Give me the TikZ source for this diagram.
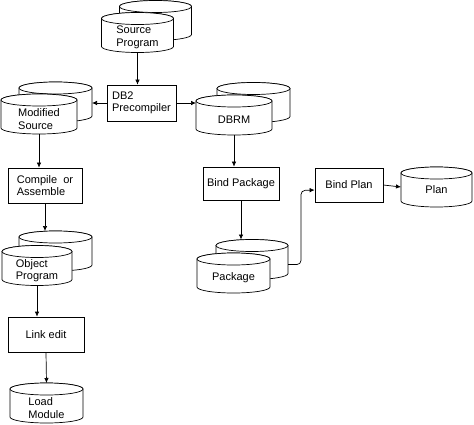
\documentclass[tikz,border=0pt]{standalone}
\usepackage{fontspec}
\setmainfont{Liberation Sans}
\usetikzlibrary{arrows.meta}

\newcommand{\dbdrum}[4]{% name, x, y, width
  \pgfmathsetmacro\drumL{#2-#4/2}\pgfmathsetmacro\drumR{#2+#4/2}
  \pgfmathsetmacro\drumT{#3-14}\pgfmathsetmacro\drumB{#3+14}
  \filldraw[drum] (\drumL,\drumT) -- (\drumL,\drumB)
    arc[start angle=180,end angle=0,x radius=#4/2,y radius=6] -- (\drumR,\drumT)
    arc[start angle=0,end angle=-180,x radius=#4/2,y radius=6] -- cycle;
  \draw[drum] (#2,\drumT) ellipse[x radius=#4/2,y radius=6];
  \node[drumbox,minimum width=#4pt] (#1) at (#2,#3) {};
}

\begin{document}
\begin{tikzpicture}[x=1pt,y=-1pt,
  box/.style={draw,line width=0.7pt,minimum width=72pt,minimum height=35pt,
              inner sep=3pt,align=left,font=\fontsize{11}{12.5}\selectfont},
  drum/.style={draw=black,fill=white,line width=0.7pt},
  drumbox/.style={inner sep=0pt,outer sep=0pt,minimum height=40pt},
  disklab/.style={yshift=-5pt,inner sep=0pt,align=left,font=\fontsize{11}{12.5}\selectfont},
  flow/.style={line width=0.7pt,-{Latex[length=5pt,width=4.5pt]}}
]
  \useasboundingbox (0,0) rectangle (474,425);

  \dbdrum{srcback}{155.5}{20.5}{72}
  \dbdrum{srcfront}{137.5}{32.5}{72}
  \node[disklab] (srclab) at (srcfront.center) {Source\\Program};

  \node[box,minimum width=69pt,minimum height=36pt] (precomp) at (141.5,103) {DB2\\Precompiler};

  \dbdrum{modback}{55.5}{102}{73}
  \dbdrum{modfront}{39}{114}{76}
  \node[disklab] (modlab) at (modfront.center) {Modified\\Source};

  \dbdrum{dbrmback}{253.5}{102.5}{73}
  \dbdrum{dbrmfront}{234}{115}{76}
  \node[disklab] (dbrmlab) at (dbrmfront.center) {DBRM};

  \node[box,minimum width=74pt] (compile) at (45,185.5) {Compile~~or\\Assemble};

  \dbdrum{objback}{55.5}{251}{73}
  \dbdrum{objfront}{37}{265.5}{70}
  \node[disklab] (objlab) at (objfront.center) {Object\\Program};

  \node[box,minimum width=76pt] (linkedit) at (46,334.5) {Link edit};

  \dbdrum{loadmod}{46.5}{403}{73}
  \node[disklab] (loadlab) at (loadmod.center) {Load\\Module};

  \node[box,minimum width=76pt,minimum height=33pt] (bindpkg) at (241,183.5) {Bind Package};

  \dbdrum{pkgback}{252}{259.5}{72}
  \dbdrum{pkgfront}{233.5}{273}{73}
  \node[disklab] (pkglab) at (pkgfront.center) {Package};

  \node[box,minimum width=68pt,minimum height=34pt] (bindplan) at (349,185) {Bind Plan};

  \dbdrum{plan}{436.5}{187}{71}
  \node[disklab,yshift=2pt] (planlab) at (plan.center) {Plan};

  \draw[flow] (srcfront.south) -- (srcfront.south |- precomp.north);
  \draw[flow] (precomp.west) -- (precomp.west -| modback.east);
  \draw[flow] (precomp.east) -- (precomp.east -| dbrmfront.west);
  \draw[flow] (modfront.south) -- (modfront.south |- compile.north);
  \draw[flow] (compile.south) -- (compile.south |- objback.north);
  \draw[flow] (objfront.south) -- (objfront.south |- linkedit.north);
  \draw[flow] (linkedit.south) -- (loadmod.north);
  \draw[flow] (dbrmfront.south) -- (dbrmfront.south |- bindpkg.north);
  \draw[flow] (bindpkg.south) -- (bindpkg.south |- pkgback.north);
  \draw[flow,rounded corners=4pt] ([yshift=-5pt]pkgback.east) -| ++(13,-74) coordinate (bend)
    -- ([yshift=-5pt]bindplan.west);
  \draw[flow] (bindplan.east) -- (plan.west);
\end{tikzpicture}
\end{document}
